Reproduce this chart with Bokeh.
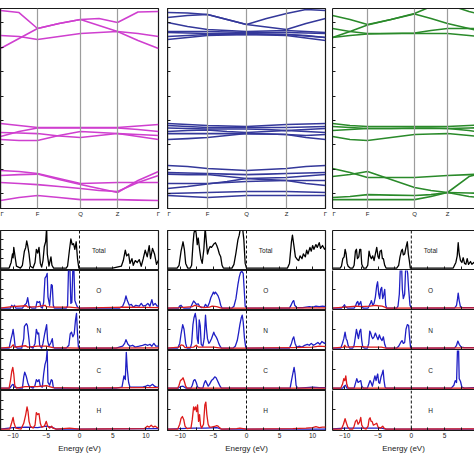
from bokeh.plotting import figure
from bokeh.layouts import row, column
from bokeh.models import Span, Label, FixedTicker, LinearAxis, Range1d
from bokeh.embed import file_html
from bokeh.resources import INLINE

FONT = "Liberation Sans"
INK = "#1a1a1a"

# ---------------- band structures ----------------
k_labels = ["Γ", "F", "Q", "Z", "Γ"]
k_path_a = [0, 37, 80, 117, 158]
k_path_b = [0, 40, 79, 119, 158]
k_path_c = [0, 35, 82, 115, 158]

# band energies (eV) at Γ, ½, F, ½, Q, ½, Z, ½, Γ
bands_a = [
    [9.02, 8.85, 7.54, 7.95, 8.28, 8.36, 8.03, 8.89, 8.93],
    [5.90, 6.72, 7.54, 7.95, 8.28, 7.79, 7.30, 6.56, 5.90],
    [6.97, 6.89, 6.64, 6.89, 7.13, 7.21, 7.30, 7.13, 6.89],
    [-0.25, -0.41, -0.57, -0.57, -0.57, -0.57, -0.57, -0.45, -0.33],
    [-1.31, -0.90, -0.61, -0.61, -0.61, -0.61, -0.61, -0.74, -0.90],
    [-0.98, -1.02, -1.07, -1.27, -1.39, -1.23, -1.07, -1.15, -1.23],
    [-1.56, -1.64, -1.64, -1.23, -0.90, -0.98, -1.07, -1.31, -1.56],
    [-4.10, -4.18, -4.34, -4.75, -5.16, -5.12, -5.08, -5.08, -5.08],
    [-4.51, -4.43, -4.39, -4.84, -5.25, -5.57, -5.90, -4.92, -4.18],
    [-5.08, -5.16, -5.25, -5.41, -5.57, -5.74, -5.82, -5.08, -4.51],
    [-6.56, -6.31, -6.15, -6.31, -6.48, -6.48, -6.48, -6.52, -6.56],
]
bands_b = [
    [8.85, 8.81, 8.69, 8.28, 7.87, 8.36, 8.77, 9.10, 9.02],
    [8.44, 8.61, 8.69, 8.28, 7.87, 7.66, 7.46, 7.95, 8.36],
    [8.03, 7.70, 7.46, 7.38, 7.30, 7.34, 7.38, 7.30, 7.21],
    [7.30, 7.30, 7.30, 7.25, 7.21, 7.21, 7.21, 7.17, 7.13],
    [7.21, 7.17, 7.13, 7.13, 7.13, 7.09, 7.05, 6.97, 6.80],
    [6.89, 6.97, 7.05, 7.05, 7.05, 7.05, 7.05, 6.93, 6.80],
    [6.64, 6.80, 6.97, 7.01, 7.05, 7.01, 6.97, 6.76, 6.56],
    [-0.25, -0.33, -0.41, -0.45, -0.49, -0.41, -0.33, -0.29, -0.25],
    [-0.41, -0.49, -0.57, -0.57, -0.57, -0.57, -0.57, -0.53, -0.49],
    [-0.61, -0.66, -0.70, -0.70, -0.70, -0.74, -0.82, -0.74, -0.66],
    [-0.90, -0.82, -0.78, -0.90, -0.98, -0.90, -0.82, -0.90, -0.98],
    [-1.07, -1.07, -1.07, -1.07, -1.07, -1.11, -1.15, -1.23, -1.15],
    [-1.56, -1.48, -1.39, -1.23, -1.07, -1.11, -1.15, -1.39, -1.56],
    [-3.69, -3.77, -3.93, -4.02, -4.10, -4.02, -3.93, -3.77, -3.69],
    [-4.26, -4.30, -4.34, -4.39, -4.43, -4.39, -4.34, -4.30, -4.26],
    [-4.39, -4.43, -4.43, -4.59, -4.75, -4.71, -4.67, -4.55, -4.43],
    [-5.16, -5.16, -5.16, -5.08, -5.00, -4.96, -4.92, -4.92, -4.92],
    [-5.57, -5.41, -5.20, -5.00, -4.75, -4.84, -4.92, -5.16, -5.33],
    [-5.98, -5.94, -5.90, -5.86, -5.82, -5.82, -5.82, -5.86, -5.90],
    [-6.15, -6.23, -6.31, -6.23, -6.15, -6.15, -6.15, -6.15, -6.15],
]
bands_c = [
    [8.61, 8.28, 7.87, 8.28, 8.77, 9.34, 9.51, 8.93, 8.52],
    [6.80, 7.30, 7.83, 8.28, 8.73, 8.36, 7.95, 7.54, 7.13],
    [7.54, 7.30, 7.13, 7.13, 7.17, 7.38, 7.54, 7.54, 7.54],
    [6.80, 6.97, 7.09, 7.13, 7.13, 7.13, 7.13, 6.97, 6.80],
    [-0.25, -0.41, -0.49, -0.49, -0.49, -0.49, -0.49, -0.41, -0.33],
    [-0.49, -0.57, -0.66, -0.66, -0.61, -0.61, -0.66, -0.61, -0.57],
    [-0.82, -0.74, -0.66, -0.66, -0.66, -0.66, -0.66, -0.82, -1.07],
    [-1.31, -1.56, -1.64, -1.39, -1.15, -1.11, -1.07, -1.23, -1.39],
    [-3.93, -4.26, -4.67, -4.67, -4.67, -4.59, -4.51, -4.43, -4.34],
    [-4.59, -4.43, -4.18, -4.84, -5.49, -5.74, -5.90, -4.59, -4.10],
    [-6.31, -6.23, -6.07, -6.11, -6.15, -6.07, -5.90, -5.94, -5.98],
    [-6.48, -6.48, -6.48, -6.48, -6.48, -6.23, -5.90, -6.23, -6.39],
]
band_ticks = [-6, -4, -2, 0, 2, 4, 6, 8]

# ---------------- projected DOS (E in eV, states) ----------------
tot_a = [(-12.0, 0), (-10.6, 0), (-10.3, 0.6), (-10.1, 1.5), (-10.0, 1.1), (-9.9, 2.2), (-9.7, 1.2), (-9.5, 0.2),
         (-8.9, 0), (-8.6, 0.3), (-8.3, 1.8), (-8.1, 2.2), (-7.95, 2.9), (-7.8, 2.4), (-7.6, 1.5), (-7.4, 0.2),
         (-7.0, 0), (-6.7, 0.6), (-6.5, 2.0), (-6.3, 1.6), (-6.1, 2.2), (-5.9, 0.5), (-5.7, 0.1), (-5.5, 0.8),
         (-5.3, 2.3), (-5.1, 2.8), (-4.95, 4.3), (-4.85, 1.5), (-4.6, 0.2), (-4.3, 1.2), (-4.15, 0.3), (-3.9, 0),
         (-2.0, 0), (-1.8, 0.2), (-1.5, 2.0), (-1.3, 3.1), (-1.1, 2.5), (-0.9, 2.6), (-0.7, 2.0), (-0.5, 2.8),
         (-0.3, 1.0), (-0.1, 0), (5.0, 0), (6.3, 0.2), (6.6, 0.8), (6.9, 1.9), (7.1, 1.3), (7.4, 1.5), (7.6, 0.5),
         (7.9, 1.0), (8.1, 0.3), (8.4, 0.8), (8.7, 0.6), (9.0, 0.9), (9.3, 0.2), (9.6, 1.0), (9.9, 1.9),
         (10.2, 1.2), (10.5, 2.4), (10.7, 1.0), (11.0, 2.1), (11.3, 1.5), (11.6, 0.4), (12.0, 1.0), (12.4, 0.6)]
o_p_a = [(-12, 0), (-10.4, 0), (-10.2, 0.3), (-10.0, 0.1), (-9.8, 0.3), (-9.6, 0), (-8.6, 0), (-8.3, 0.3),
         (-8.0, 0.5), (-7.8, 1.1), (-7.6, 0.2), (-7.2, 0), (-6.6, 0), (-6.4, 0.7), (-6.2, 0.6), (-6.0, 0.7),
         (-5.8, 0.1), (-5.6, 0), (-5.4, 0.6), (-5.2, 3.2), (-5.0, 3.4), (-4.87, 3.7), (-4.75, 1.2), (-4.5, 0.3),
         (-4.25, 2.5), (-4.1, 2.4), (-3.95, 0.3), (-3.8, 0), (-2.0, 0), (-1.8, 0.2), (-1.65, 4.3), (-1.45, 4.3),
         (-1.3, 0.5), (-1.15, 0.6), (-1.0, 4.3), (-0.85, 4.3), (-0.7, 0.8), (-0.5, 0.4), (-0.3, 0.1), (-0.1, 0),
         (6.0, 0), (6.5, 0.2), (6.8, 0.7), (7.0, 1.3), (7.2, 0.8), (7.5, 0.3), (7.8, 0.4), (8.1, 0.1), (8.5, 0.3),
         (9.0, 0.2), (9.3, 0.5), (9.6, 0.2), (10.0, 0.3), (10.3, 0.5), (10.6, 0.2), (10.9, 0.9), (11.1, 0.3),
         (11.4, 0.5), (11.7, 0.2), (12.4, 0.3)]
o_s_a = [(-12, 0), (-10.2, 0.15), (-8.0, 0.25), (-7.8, 0.1), (-6.3, 0.15), (-5.2, 0.3), (-5.0, 0.15),
         (-4.1, 0.1), (-1.5, 0.1), (0, 0), (7, 0.1), (12.4, 0.05)]
n_p_a = [(-12, 0), (-10.6, 0), (-10.3, 1.0), (-10.1, 1.6), (-10.0, 2.0), (-9.85, 1.2), (-9.7, 0.2), (-9.4, 0),
         (-8.7, 0), (-8.4, 1.0), (-8.3, 2.3), (-8.0, 2.6), (-7.85, 2.4), (-7.7, 1.5), (-7.5, 0.2), (-7.0, 0),
         (-6.7, 0.5), (-6.5, 2.0), (-6.3, 1.5), (-6.15, 1.6), (-6.0, 0.3), (-5.7, 0), (-5.5, 0.5), (-5.25, 1.5),
         (-4.95, 2.5), (-4.8, 0.8), (-4.6, 0.2), (-4.3, 0.6), (-4.1, 1.0), (-3.95, 0.1), (-3.8, 0), (-2.0, 0),
         (-1.6, 0.3), (-1.4, 1.5), (-1.2, 1.7), (-1.0, 1.2), (-0.8, 1.5), (-0.6, 3.0), (-0.45, 3.7), (-0.3, 1.5),
         (-0.15, 0), (5.5, 0), (6.5, 0.2), (6.8, 0.5), (7.0, 0.9), (7.3, 0.4), (7.6, 0.2), (8.0, 0.3), (8.4, 0.1),
         (9.0, 0.2), (9.5, 0.3), (9.9, 0.4), (10.3, 0.3), (10.6, 0.4), (10.9, 0.2), (11.2, 0.5), (11.5, 0.2),
         (12.4, 0.2)]
n_s_a = [(-12, 0), (-10.3, 0.1), (-10.0, 0.35), (-9.8, 0.1), (-8.1, 0.25), (-7.8, 0.1), (-6.3, 0.2),
         (-5.0, 0.2), (-4.0, 0.05), (0, 0), (12.4, 0.03)]
c_s_a = [(-12, 0), (-10.6, 0), (-10.4, 0.8), (-10.2, 1.8), (-10.05, 2.2), (-9.9, 1.5), (-9.75, 0.3), (-9.5, 0),
         (-8.2, 0.15), (-6.4, 0.15), (-5.0, 0.25), (-4.0, 0.05), (0, 0), (10, 0.05), (12.4, 0.05)]
c_p_a = [(-12, 0), (-10.5, 0), (-10.2, 0.3), (-10.0, 0.4), (-9.8, 0.1), (-9.0, 0), (-8.6, 0), (-8.4, 1.2),
         (-8.25, 1.7), (-8.0, 1.2), (-7.8, 0.6), (-7.6, 0.2), (-7.0, 0), (-6.7, 0.3), (-6.5, 0.9), (-6.3, 0.7),
         (-6.1, 0.9), (-5.9, 0.2), (-5.6, 0.1), (-5.4, 1.5), (-5.2, 2.5), (-5.0, 3.0), (-4.87, 4.0),
         (-4.75, 0.6), (-4.5, 0.3), (-4.25, 0.9), (-4.1, 0.8), (-3.95, 0.1), (-3.8, 0), (5.5, 0), (6.4, 0.1),
         (6.7, 1.3), (6.9, 0.9), (7.05, 3.8), (7.2, 2.0), (7.4, 0.6), (7.6, 0.1), (8.2, 0.1), (9.5, 0.1),
         (10.0, 0.2), (10.3, 0.3), (10.6, 0.2), (11.0, 0.4), (11.3, 0.2), (11.6, 0.1), (12.4, 0.1)]
h_s_a = [(-12, 0), (-10.5, 0), (-10.2, 0.7), (-10.0, 1.2), (-9.85, 0.6), (-9.6, 0.1), (-8.8, 0), (-8.4, 0.6),
         (-8.1, 1.5), (-7.9, 2.3), (-7.75, 1.8), (-7.6, 0.8), (-7.4, 0.3), (-7.0, 0.1), (-6.7, 0.4), (-6.5, 1.7),
         (-6.3, 1.5), (-6.1, 1.6), (-5.9, 0.6), (-5.7, 0.2), (-5.3, 0.3), (-5.0, 0.8), (-4.8, 0.3), (-4.5, 0.1),
         (-4.2, 0.3), (-4.0, 0.1), (-3.5, 0), (-1.5, 0.1), (0, 0), (9.8, 0.05), (10.2, 0.3), (10.5, 0.2),
         (10.8, 0.4), (11.1, 0.2), (11.4, 0.3), (11.8, 0.1), (12.4, 0.2)]
h_p_a = [(-12, 0), (-10.0, 0.15), (-8.0, 0.2), (-6.3, 0.15), (-5.0, 0.3), (-4.2, 0.2), (-3.5, 0), (0, 0),
         (12.4, 0.05)]

tot_b = [(-12, 0), (-10.5, 0), (-10.2, 0.3), (-9.9, 1.8), (-9.6, 2.8), (-9.4, 2.0), (-9.2, 0.5), (-8.9, 0),
         (-8.5, 0), (-8.3, 0.3), (-8.1, 2.5), (-7.95, 3.7), (-7.75, 4.3), (-7.6, 3.6), (-7.45, 2.5), (-7.3, 3.2),
         (-7.1, 2.0), (-6.9, 1.0), (-6.7, 0.5), (-6.45, 2.0), (-6.25, 4.3), (-6.1, 3.0), (-5.9, 1.5), (-5.7, 2.0),
         (-5.5, 2.3), (-5.3, 2.2), (-5.1, 2.4), (-4.9, 2.6), (-4.7, 2.7), (-4.5, 2.4), (-4.3, 2.0), (-4.1, 1.5),
         (-3.9, 1.2), (-3.7, 0.3), (-3.5, 0), (-2.2, 0), (-1.9, 0.4), (-1.6, 1.6), (-1.3, 3.0), (-1.1, 3.5),
         (-0.9, 4.3), (-0.6, 4.3), (-0.4, 3.0), (-0.2, 0.5), (0, 0), (6.2, 0), (6.5, 0.5), (6.8, 2.8),
         (6.95, 3.5), (7.15, 2.5), (7.4, 1.2), (7.7, 0.9), (7.9, 0.8), (8.1, 1.3), (8.4, 1.0), (8.6, 1.5),
         (8.9, 1.2), (9.1, 1.9), (9.3, 1.5), (9.6, 2.2), (9.8, 1.8), (10.0, 2.4), (10.2, 2.0), (10.5, 2.5),
         (10.7, 2.2), (11.0, 2.7), (11.2, 2.1), (11.5, 2.4), (11.8, 2.0), (12.1, 2.3)]
o_p_b = [(-12, 0), (-10.3, 0), (-10.1, 0.25), (-9.9, 0.3), (-9.7, 0.1), (-9.5, 0), (-8.5, 0), (-8.3, 0.3),
         (-8.0, 0.75), (-7.8, 0.6), (-7.6, 0.4), (-7.3, 0.45), (-7.1, 0.2), (-6.8, 0.05), (-6.4, 0.1), (-6.2, 0.4),
         (-5.9, 0.1), (-5.6, 0.6), (-5.4, 1.1), (-5.2, 1.4), (-5.0, 1.7), (-4.85, 1.5), (-4.7, 1.7), (-4.5, 1.5),
         (-4.3, 1.3), (-4.1, 0.9), (-3.9, 0.3), (-3.7, 0), (-2.2, 0), (-1.9, 0.2), (-1.6, 1.0), (-1.3, 2.5),
         (-1.1, 3.3), (-0.9, 3.8), (-0.7, 3.9), (-0.5, 3.7), (-0.35, 2.0), (-0.2, 0.2), (0, 0), (6.5, 0),
         (6.8, 0.4), (7.0, 0.7), (7.15, 0.8), (7.3, 0.3), (7.6, 0.05), (8.5, 0.05), (9.0, 0.1), (9.5, 0.15),
         (10.0, 0.1), (10.5, 0.2), (11.0, 0.15), (11.5, 0.2), (12.1, 0.15)]
o_s_b = [(-12, 0), (-10, 0.05), (-8.2, 0.15), (-7.8, 0.3), (-7.4, 0.2), (-6.5, 0.05), (-5.6, 0.1), (-5.2, 0.2),
         (-4.5, 0.15), (-3.8, 0), (0, 0), (12.1, 0.03)]
n_p_b = [(-12, 0), (-10.4, 0), (-10.1, 0.5), (-9.9, 1.5), (-9.65, 2.5), (-9.45, 2.0), (-9.2, 0.5), (-9.0, 0),
         (-8.5, 0), (-8.3, 0.5), (-8.1, 2.5), (-7.95, 3.2), (-7.75, 3.7), (-7.6, 3.0), (-7.45, 1.0), (-7.3, 0.5),
         (-7.15, 3.0), (-7.0, 2.4), (-6.85, 0.4), (-6.6, 0.2), (-6.4, 1.0), (-6.2, 3.5), (-6.05, 2.0),
         (-5.9, 1.0), (-5.7, 0.5), (-5.5, 0.7), (-5.3, 1.0), (-5.1, 1.4), (-4.95, 1.7), (-4.8, 1.4), (-4.6, 1.2),
         (-4.4, 0.9), (-4.2, 0.5), (-4.0, 0.2), (-3.8, 0), (-2.0, 0), (-1.7, 0.2), (-1.4, 0.8), (-1.2, 1.6),
         (-1.0, 2.5), (-0.8, 3.2), (-0.65, 3.5), (-0.5, 2.8), (-0.3, 1.0), (-0.1, 0), (6.5, 0), (6.8, 0.5),
         (7.0, 1.0), (7.15, 1.2), (7.35, 0.5), (7.6, 0.1), (8.0, 0.2), (8.4, 0.1), (8.8, 0.3), (9.2, 0.4),
         (9.5, 0.3), (9.8, 0.5), (10.1, 0.3), (10.4, 0.4), (10.8, 0.6), (11.1, 0.4), (11.4, 0.7), (11.8, 0.5),
         (12.1, 0.6)]
n_s_b = [(-12, 0), (-10.2, 0.1), (-9.9, 0.35), (-9.6, 0.3), (-9.3, 0.05), (-8, 0.1), (-7.6, 0.3), (-7.3, 0.1),
         (-6.2, 0.1), (-5, 0.1), (-3.8, 0), (0, 0), (7, 0.05), (10, 0.1), (11, 0.2), (12.1, 0.15)]
c_s_b = [(-12, 0), (-10.4, 0), (-10.2, 0.3), (-10.0, 0.8), (-9.8, 0.9), (-9.6, 1.1), (-9.4, 0.7), (-9.2, 0.2),
         (-9.0, 0), (0, 0), (12.1, 0)]
c_p_b = [(-12, 0), (-10.3, 0), (-10.0, 0.15), (-9.6, 0.2), (-9.2, 0), (-8.4, 0), (-8.2, 0.3), (-8.0, 0.8),
         (-7.8, 0.9), (-7.6, 0.6), (-7.4, 0.1), (-7.0, 0), (-6.6, 0), (-6.4, 0.5), (-6.2, 0.8), (-6.0, 0.5),
         (-5.8, 0.2), (-5.6, 0.4), (-5.3, 0.8), (-5.0, 1.0), (-4.8, 1.2), (-4.6, 1.1), (-4.4, 0.8), (-4.2, 0.5),
         (-4.0, 0.2), (-3.8, 0), (6.6, 0), (6.8, 0.8), (7.0, 1.5), (7.2, 2.2), (7.35, 1.5), (7.5, 0.3), (7.7, 0),
         (9, 0.05), (10, 0.1), (11, 0.05), (12.1, 0.05)]
h_s_b = [(-12, 0), (-10.4, 0), (-10.1, 0.5), (-9.9, 1.1), (-9.7, 1.3), (-9.5, 1.0), (-9.3, 0.3), (-9.0, 0.05),
         (-8.4, 0.1), (-8.2, 1.0), (-8.0, 2.3), (-7.85, 2.0), (-7.7, 2.3), (-7.55, 1.8), (-7.4, 2.5),
         (-7.25, 0.8), (-7.1, 1.5), (-6.95, 0.4), (-6.8, 0.1), (-6.5, 0.5), (-6.3, 2.5), (-6.15, 2.8),
         (-6.0, 1.5), (-5.8, 0.5), (-5.6, 0.2), (-5.3, 0.2), (-5.0, 0.25), (-4.7, 0.3), (-4.5, 0.35),
         (-4.3, 0.3), (-4.1, 0.15), (-3.8, 0), (-1.5, 0.05), (-1.0, 0.1), (-0.5, 0.05), (0, 0), (7, 0.05),
         (9, 0.1), (10, 0.15), (10.5, 0.25), (11, 0.15), (11.5, 0.2), (12.1, 0.2)]
h_p_b = [(-12, 0), (-10, 0.05), (-8, 0.1), (-6.2, 0.1), (-4.5, 0.15), (-3.8, 0), (12.1, 0)]

tot_c = [(-12, 0), (-10.7, 0), (-10.5, 0.2), (-10.3, 1.0), (-10.1, 1.2), (-9.95, 2.0), (-9.8, 1.5),
         (-9.65, 0.5), (-9.5, 0.2), (-9.2, 0), (-8.8, 0), (-8.6, 0.3), (-8.4, 1.8), (-8.25, 2.0), (-8.1, 1.0),
         (-7.9, 1.2), (-7.75, 2.0), (-7.6, 2.0), (-7.45, 0.4), (-7.2, 0), (-6.8, 0), (-6.55, 0.3), (-6.35, 1.8),
         (-6.2, 1.3), (-6.0, 1.0), (-5.8, 1.3), (-5.6, 0.8), (-5.4, 1.5), (-5.2, 2.2), (-5.0, 1.2), (-4.85, 1.0),
         (-4.7, 1.8), (-4.5, 1.9), (-4.35, 1.0), (-4.2, 1.0), (-4.0, 0.3), (-3.8, 0), (-2.2, 0), (-1.9, 0.3),
         (-1.7, 1.2), (-1.5, 1.8), (-1.35, 2.0), (-1.2, 1.4), (-1.0, 1.5), (-0.8, 2.2), (-0.6, 2.8), (-0.45, 1.5),
         (-0.3, 0.8), (-0.15, 0), (6.3, 0), (6.5, 0.3), (6.7, 0.6), (6.9, 1.3), (7.05, 2.7), (7.2, 1.5),
         (7.4, 0.8), (7.6, 0.6), (7.8, 1.1), (8.0, 0.5), (8.2, 0.4), (8.4, 1.0), (8.6, 0.4), (8.9, 0.7),
         (9.1, 0.4), (9.4, 0.6), (9.7, 0.3)]
o_p_c = [(-12, 0), (-10.5, 0), (-10.2, 0.2), (-10.05, 0.35), (-9.9, 0.15), (-9.6, 0), (-8.6, 0), (-8.4, 0.2),
         (-8.2, 0.6), (-8.05, 0.7), (-7.9, 0.3), (-7.75, 0.5), (-7.6, 0.7), (-7.45, 0.1), (-7.2, 0), (-6.5, 0),
         (-6.3, 0.3), (-6.15, 0.5), (-6.0, 0.8), (-5.8, 0.3), (-5.6, 0.5), (-5.4, 1.2), (-5.2, 2.4),
         (-5.07, 2.8), (-4.9, 1.5), (-4.75, 1.0), (-4.6, 2.0), (-4.45, 2.2), (-4.3, 1.0), (-4.15, 1.4),
         (-4.0, 2.0), (-3.85, 0.3), (-3.7, 0), (-2.2, 0), (-2.0, 0.2), (-1.8, 1.5), (-1.65, 4.3), (-1.45, 4.3),
         (-1.35, 2.0), (-1.2, 1.0), (-1.0, 1.5), (-0.85, 4.3), (-0.7, 4.3), (-0.55, 3.7), (-0.4, 2.0),
         (-0.2, 0.3), (0, 0), (6.5, 0), (6.8, 0.3), (6.95, 1.0), (7.05, 1.6), (7.2, 0.8), (7.4, 0.1),
         (7.7, 0.05), (9.7, 0.05)]
o_s_c = [(-12, 0), (-10.1, 0.1), (-8.2, 0.2), (-7.6, 0.15), (-6.2, 0.2), (-5.4, 0.3), (-5.0, 0.25),
         (-4.4, 0.2), (-4.0, 0.1), (-3.7, 0), (9.7, 0.02)]
n_p_c = [(-12, 0), (-10.6, 0), (-10.35, 0.5), (-10.15, 1.0), (-9.96, 1.7), (-9.8, 1.0), (-9.65, 0.8),
         (-9.5, 0.3), (-9.3, 0), (-8.8, 0), (-8.6, 0.3), (-8.45, 1.0), (-8.25, 2.0), (-8.1, 1.5), (-7.95, 1.0),
         (-7.75, 1.8), (-7.6, 2.0), (-7.45, 0.8), (-7.3, 0.1), (-7.0, 0), (-6.6, 0), (-6.4, 0.5), (-6.25, 1.8),
         (-6.1, 1.6), (-5.95, 1.2), (-5.8, 1.0), (-5.6, 1.2), (-5.4, 1.6), (-5.2, 1.2), (-5.0, 0.9), (-4.8, 1.4),
         (-4.6, 1.0), (-4.4, 0.8), (-4.2, 1.2), (-4.0, 0.4), (-3.8, 0), (-2.2, 0), (-1.9, 0.2), (-1.6, 0.6),
         (-1.4, 0.8), (-1.2, 0.5), (-1.0, 0.6), (-0.8, 2.0), (-0.6, 2.5), (-0.4, 2.4), (-0.25, 1.0), (-0.1, 0),
         (6.5, 0), (6.8, 0.3), (7.0, 0.75), (7.2, 0.4), (7.5, 0.1), (8, 0.05), (9.7, 0.05)]
n_s_c = [(-12, 0), (-10.2, 0.1), (-10.0, 0.3), (-9.8, 0.1), (-8.2, 0.15), (-7.6, 0.15), (-6.2, 0.1),
         (-4.5, 0.1), (-3.8, 0), (0, 0), (9.7, 0.02)]
c_s_c = [(-12, 0), (-10.6, 0), (-10.35, 0.4), (-10.15, 1.0), (-10.0, 0.8), (-9.85, 1.3), (-9.7, 0.4),
         (-9.5, 0), (0, 0), (9.7, 0)]
c_p_c = [(-12, 0), (-10.3, 0), (-10.1, 0.2), (-9.9, 0.3), (-9.7, 0), (-8.6, 0), (-8.4, 0.5), (-8.2, 1.0),
         (-8.0, 0.6), (-7.8, 0.7), (-7.6, 0.8), (-7.45, 0.2), (-7.2, 0), (-6.6, 0), (-6.4, 0.4), (-6.2, 0.8),
         (-6.05, 0.6), (-5.85, 0.2), (-5.65, 0.8), (-5.47, 1.3), (-5.3, 0.8), (-5.15, 1.3), (-5.05, 1.5),
         (-4.9, 0.6), (-4.75, 0.5), (-4.55, 1.2), (-4.4, 1.5), (-4.24, 1.9), (-4.1, 0.8), (-3.95, 0.1), (-3.8, 0),
         (6.0, 0), (6.4, 0.3), (6.6, 0.8), (6.8, 0.6), (6.95, 4.3), (7.1, 4.3), (7.2, 1.0), (7.4, 0.7),
         (7.6, 0.1), (8.0, 0), (9.7, 0.05)]
h_s_c = [(-12, 0), (-10.5, 0), (-10.2, 0.5), (-9.96, 1.07), (-9.75, 0.6), (-9.55, 0.2), (-9.3, 0), (-8.8, 0),
         (-8.6, 0.3), (-8.4, 0.8), (-8.2, 0.95), (-8.0, 0.5), (-7.8, 0.7), (-7.6, 1.2), (-7.45, 0.4), (-7.2, 0.1),
         (-6.8, 0), (-6.5, 0.3), (-6.35, 1.0), (-6.2, 1.17), (-6.05, 0.8), (-5.9, 0.8), (-5.7, 0.4),
         (-5.45, 0.5), (-5.2, 0.6), (-5.0, 0.2), (-4.6, 0.1), (-4.3, 0.3), (-4.1, 0.1), (-3.8, 0), (9.7, 0.02)]
h_p_c = [(-12, 0), (-10, 0.1), (-8.2, 0.1), (-6.2, 0.1), (-4.5, 0.1), (-3.8, 0), (9.7, 0)]

row_names = ["Total", "O", "N", "C", "H"]
e_major = [-10, -5, 0, 5, 10]
e_minor = [-12.5, -7.5, -2.5, 2.5, 7.5, 12.5]
e_all = [-12.5, -10, -7.5, -5, -2.5, 0, 2.5, 5, 7.5, 10, 12.5]

BAND_COLORS = ["#cf3fcf", "#34389a", "#2a8a2a"]
P_COLOR = "#1f1fc4"
S_COLOR = "#dd1a1a"

# column geometry: frame width, right border, energy window, k window, closed frame
COLS = [
    dict(fw=158, rb=9, erange=(-11.9, 11.9), kmax=158, closed=True),
    dict(fw=158, rb=7, erange=(-11.95, 11.95), kmax=158, closed=True),
    dict(fw=142, rb=0, erange=(-11.85, 9.5), kmax=142, closed=False),
]


def style_axis(ax, marks=None, labelled=None, label_size="6.5px", tick_len=3):
    """Inward tick marks; only `labelled` ticks carry labels."""
    ax.ticker = FixedTicker(ticks=labelled or [], minor_ticks=marks or [])
    ax.major_tick_in = tick_len
    ax.major_tick_out = 0
    ax.minor_tick_in = tick_len
    ax.minor_tick_out = 0
    ax.major_tick_line_color = INK
    ax.minor_tick_line_color = INK
    ax.axis_line_color = INK
    ax.axis_line_width = 1.2
    ax.major_label_text_font_size = label_size
    ax.major_label_text_font = FONT
    ax.major_label_text_color = "#222222"
    ax.major_label_standoff = 2


def base_fig(cfg, fh, top, bottom, xr, yr, with_top):
    p = figure(frame_width=cfg["fw"], frame_height=fh, min_border_left=0, min_border_right=cfg["rb"],
               min_border_top=top, min_border_bottom=bottom, x_range=Range1d(*xr), y_range=Range1d(*yr),
               output_backend="svg", toolbar_location=None)
    p.grid.visible = False
    p.outline_line_color = INK if cfg["closed"] else None
    p.outline_line_width = 1.2
    p.background_fill_color = "white"
    p.border_fill_color = "white"
    if with_top and not cfg["closed"]:
        ax = LinearAxis()
        style_axis(ax)
        p.add_layout(ax, "above")
    return p


def band_panel(cfg, path, bands, color):
    p = base_fig(cfg, 200, 8, 14, (0, cfg["kmax"]), (-7.21, 9.18), True)
    xa = p.below[0]
    style_axis(xa, labelled=path, label_size="6px", tick_len=0)
    xa.major_label_overrides = {k: lab for k, lab in zip(path, k_labels)}
    style_axis(p.left[0], marks=band_ticks)
    for k in path[1:-1]:
        p.add_layout(Span(location=k, dimension="height", line_color="#9c9c9c", line_width=1.2))
    ks = []
    for a, b in zip(path[:-1], path[1:]):
        ks += [a, (a + b) / 2]
    ks.append(path[-1])
    for band in bands:
        p.line(ks, band, line_color=color, line_width=1.6, line_join="round")
    return p


def dos_panel(cfg, idx, name, curves, yticks):
    last = idx == 4
    top = 8 if idx == 0 else 0
    fh = 40 if last else 39
    bottom = 44 if last else 1
    p = base_fig(cfg, fh, top, bottom, cfg["erange"], (-0.15, 4.0), idx == 0)
    xa = p.below[0]
    if last:
        style_axis(xa, marks=e_minor, labelled=e_major, label_size="6.5px")
        xa.axis_label = "Energy (eV)"
        xa.axis_label_text_font = FONT
        xa.axis_label_text_font_size = "8px"
        xa.axis_label_text_font_style = "normal"
        xa.axis_label_text_color = "#222222"
        xa.axis_label_standoff = 3
    else:
        style_axis(xa, marks=e_all)
    style_axis(p.left[0], marks=yticks)
    for pts, color in curves:
        p.line([e for e, _ in pts], [d for _, d in pts], line_color=color, line_width=1.3,
               line_join="round")
    p.add_layout(Span(location=0, dimension="height", line_color="#111111", line_width=1,
                      line_dash="3 2"))
    p.add_layout(Label(x=2.9, y=1.92, text=name, text_font=FONT, text_font_size="6.5px",
                       text_align="center", text_baseline="middle", text_color="#222222"))
    return p


dos_sets = [
    [[(tot_a, "black")], [(o_p_a, P_COLOR), (o_s_a, S_COLOR)], [(n_p_a, P_COLOR), (n_s_a, S_COLOR)],
     [(c_p_a, P_COLOR), (c_s_a, S_COLOR)], [(h_p_a, P_COLOR), (h_s_a, S_COLOR)]],
    [[(tot_b, "black")], [(o_p_b, P_COLOR), (o_s_b, S_COLOR)], [(n_p_b, P_COLOR), (n_s_b, S_COLOR)],
     [(c_p_b, P_COLOR), (c_s_b, S_COLOR)], [(h_p_b, P_COLOR), (h_s_b, S_COLOR)]],
    [[(tot_c, "black")], [(o_p_c, P_COLOR), (o_s_c, S_COLOR)], [(n_p_c, P_COLOR), (n_s_c, S_COLOR)],
     [(c_p_c, P_COLOR), (c_s_c, S_COLOR)], [(h_p_c, P_COLOR), (h_s_c, S_COLOR)]],
]
dos_yticks = [[1, 2, 3], [2], [2]]
paths = [k_path_a, k_path_b, k_path_c]
band_sets = [bands_a, bands_b, bands_c]

columns = []
for ci, cfg in enumerate(COLS):
    items = [band_panel(cfg, paths[ci], band_sets[ci], BAND_COLORS[ci])]
    for ri, name in enumerate(row_names):
        items.append(dos_panel(cfg, ri, name, dos_sets[ci][ri], dos_yticks[ci]))
    columns.append(column(*items, spacing=0))

layout = row(*columns, spacing=0)
open("out.html", "w").write(file_html(layout, INLINE))
